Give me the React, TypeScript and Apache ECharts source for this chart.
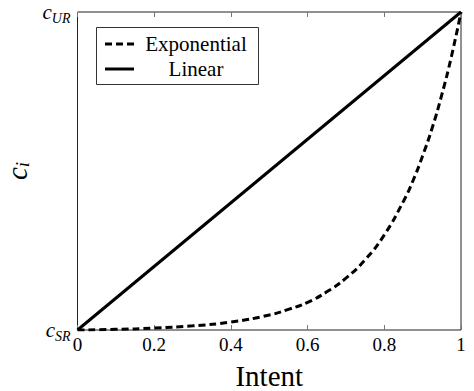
import React, { useEffect, useRef } from "react";
import * as echarts from "echarts";

const xTicks = [0, 0.2, 0.4, 0.6, 0.8, 1];
const yTickLabels = ["SR", "UR"];
const linearX = [0, 1];
const linearY = [0, 1];
const expX = [0, 0.1, 0.2, 0.3, 0.4, 0.5, 0.55, 0.6, 0.65, 0.7, 0.75, 0.8, 0.85, 0.875, 0.9, 0.925, 0.95, 0.975, 1];
const expY = [0, 0.002, 0.006, 0.013, 0.025, 0.047, 0.065, 0.087, 0.12, 0.163, 0.221, 0.299, 0.405, 0.47, 0.548, 0.636, 0.74, 0.86, 1];
const seriesNames = ["Exponential", "Linear"];

const FONT = "Liberation Serif";

export default function App() {
  const ref = useRef<HTMLDivElement>(null);
  useEffect(() => {
    document.body.style.margin = "0";
    const chart = echarts.init(ref.current!, null, { renderer: "svg" });
    const L = 77.5, T = 12, R = 13, B = 61;
    chart.setOption({
      animation: false,
      backgroundColor: "#fff",
      textStyle: { fontFamily: FONT },
      grid: { left: L, right: R, top: T, bottom: B, outerBoundsMode: "none", containLabel: false, show: true, borderColor: "#222", borderWidth: 1, backgroundColor: "transparent" },
      xAxis: [
        {
          type: "value", min: xTicks[0], max: xTicks[xTicks.length - 1], interval: 0.2,
          axisLine: { show: false },
          axisTick: { show: true, inside: true, length: 5, lineStyle: { color: "#777", width: 1 } },
          splitLine: { show: false },
          axisLabel: { color: "#000", fontFamily: FONT, fontSize: 19, margin: 5, formatter: (v: number) => String(+v.toFixed(1)) },
          name: "Intent", nameLocation: "middle", nameGap: 31,
          nameTextStyle: { color: "#000", fontFamily: FONT, fontSize: 29 },
        },
        {
          type: "value", position: "top", min: 0, max: 1, interval: 0.2,
          axisLine: { show: false },
          axisTick: { show: true, inside: true, length: 5, lineStyle: { color: "#777", width: 1 } },
          axisLabel: { show: false }, splitLine: { show: false },
        },
      ],
      yAxis: {
        type: "value", min: 0, max: 1, interval: 1,
        axisLine: { show: false }, axisTick: { show: false }, splitLine: { show: false },
        axisLabel: {
          margin: 7,
          fontFamily: FONT,
          formatter: (v: number) => `{c|c}{s|${v === 1 ? yTickLabels[1] : yTickLabels[0]}}`,
          rich: {
            c: { fontFamily: FONT, fontStyle: "italic", fontSize: 21, color: "#000", verticalAlign: "bottom" },
            s: { fontFamily: FONT, fontStyle: "italic", fontSize: 14, color: "#000", verticalAlign: "bottom", padding: [0, 0, -3, 0] },
          },
        },
        name: "{c|c}{s|i}", nameLocation: "middle", nameGap: 40, nameRotate: 90,
        nameTextStyle: {
          fontFamily: FONT,
          rich: {
            c: { fontFamily: FONT, fontStyle: "italic", fontSize: 29, lineHeight: 24, color: "#000", verticalAlign: "bottom" },
            s: { fontFamily: FONT, fontStyle: "italic", fontSize: 19, lineHeight: 16, color: "#000", verticalAlign: "bottom" },
          },
        },
      },
      series: [
        {
          name: seriesNames[0], type: "line", smooth: true, symbol: "none",
          data: expX.map((x, i) => [x, expY[i]]),
          lineStyle: { color: "#000", width: 3, type: [7, 4] },
        },
        {
          name: seriesNames[1], type: "line", symbol: "none",
          data: linearX.map((x, i) => [x, linearY[i]]),
          lineStyle: { color: "#000", width: 3 },
        },
      ],
      graphic: [
        { type: "rect", shape: { x: 96.5, y: 27.5, width: 162, height: 57 }, style: { fill: "#fff", stroke: "#333", lineWidth: 1 }, z: 10 },
        { type: "line", shape: { x1: 105, y1: 44, x2: 134, y2: 44 }, style: { stroke: "#000", lineWidth: 3, lineDash: [7, 4] }, z: 11 },
        { type: "line", shape: { x1: 105, y1: 69, x2: 134, y2: 69 }, style: { stroke: "#000", lineWidth: 3 }, z: 11 },
        { type: "text", x: 196, y: 44, style: { text: seriesNames[0], fontFamily: FONT, fontSize: 21, fill: "#000", align: "center", verticalAlign: "middle" }, z: 11 },
        { type: "text", x: 196, y: 69, style: { text: seriesNames[1], fontFamily: FONT, fontSize: 21, fill: "#000", align: "center", verticalAlign: "middle" }, z: 11 },
      ],
    });
    return () => chart.dispose();
  }, []);
  return <div ref={ref} style={{ position: "absolute", left: 0, top: 0, width: 474, height: 391 }} />;
}
